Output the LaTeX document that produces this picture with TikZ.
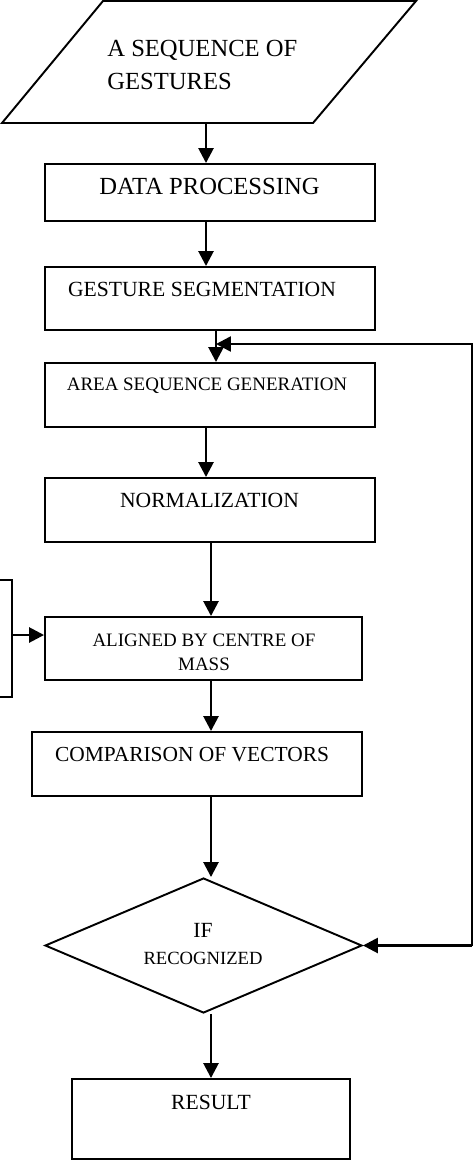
\documentclass[tikz,border=0pt]{standalone}
\usepackage{fontspec}
\setmainfont{Liberation Serif}
\usetikzlibrary{arrows.meta,shapes.geometric}
\begin{document}
\begin{tikzpicture}[x=0.02cm, y=-0.02cm,
  box/.style={draw, line width=1.1pt, inner sep=0pt, minimum width=6.6cm, minimum height=1.28cm},
  txt/.style={inner sep=0pt, text height=.66em, text depth=0pt},
  flow/.style={-{Triangle[length=0.3cm,width=0.3cm]}, line width=1.5pt}]
\useasboundingbox (0,0) rectangle (474,1160);
% Input: a sequence of gestures
\draw [line width=1.1pt] (103,1) -- (416,1) -- (313,123) -- (2,123) -- cycle;
\coordinate (seqb) at (206,123);
\node [anchor=west, align=left, inner sep=0pt, font=\fontsize{14}{18.4}\selectfont] (seq) at (107,65) {A SEQUENCE OF\\GESTURES};
% Processing steps
\node [box, minimum height=1.14cm] (dp) at (210,192.5) {};
\node [txt, font=\fontsize{14}{17}\selectfont] (dptxt) at (209.5,189) {DATA PROCESSING};
\node [box, minimum height=1.26cm] (gs) at (210,298.5) {};
\node [txt, font=\fontsize{12.3}{15}\selectfont] (gstxt) at (202,291) {GESTURE SEGMENTATION};
\node [box] (asg) at (210,395) {};
\node [txt, font=\fontsize{10.8}{13}\selectfont] (asgtxt) at (207,385) {AREA SEQUENCE GENERATION};
\node [box] (norm) at (210,510) {};
\node [txt, font=\fontsize{12.3}{15}\selectfont] (normtxt) at (209.5,502) {NORMALIZATION};
\node [box, minimum width=6.34cm, minimum height=1.26cm] (al) at (203.5,648.5) {};
\node [align=center, inner sep=0pt, font=\fontsize{10.8}{13.6}\selectfont] (altxt) at (204,652) {ALIGNED BY CENTRE OF\\MASS};
\node [box] (cv) at (197,764) {};
\node [txt, font=\fontsize{12.2}{15}\selectfont] (cvtxt) at (192,756) {COMPARISON OF VECTORS};
% Decision
\node [draw, diamond, line width=1.1pt, inner sep=0pt, minimum width=6.34cm, minimum height=2.7cm] (dec) at (203.5,945.5) {};
\node [align=center, inner sep=0pt] (dectxt) at (203,944) {\fontsize{12.3}{14.7}\selectfont IF\\[3pt]\fontsize{10.6}{14.7}\selectfont RECOGNIZED};
% Result
\node [box, minimum width=5.56cm, minimum height=1.6cm] (res) at (211,1119) {};
\node [txt, font=\fontsize{12.3}{15}\selectfont] (restxt) at (211,1104) {RESULT};
% Columns of the arrows
\coordinate (c1) at (206,0);
\coordinate (c2) at (211,0);
\coordinate (join) at (216,344);
\draw [flow] (seqb) -- (seqb |- dp.north);
\draw [flow] (dp.south -| c1) -- (gs.north -| c1);
\draw [flow] (gs.south -| join) -- (asg.north -| join);
\draw [flow] (asg.south -| c1) -- (norm.north -| c1);
\draw [flow] (norm.south -| c2) -- (al.north -| c2);
\draw [flow] (al.south -| c2) -- (cv.north -| c2);
\draw [flow] (cv.south -| c2) -- (dec.north -| c2);
\draw [flow] (dec.south -| c2) -- (res.north -| c2);
% Outside input to the alignment
\draw [line width=1.1pt] (-2,580) -- (12,580) -- (12,697) -- (-2,697);
\coordinate (ext) at (12,635);
\draw [flow] (ext) -- (ext -| al.west);
% Loop back when not recognized
\coordinate (back) at (472,945.5);
\draw [flow] (back) -- (dec.east);
\draw [flow] (back) |- (join);
\end{tikzpicture}
\end{document}
